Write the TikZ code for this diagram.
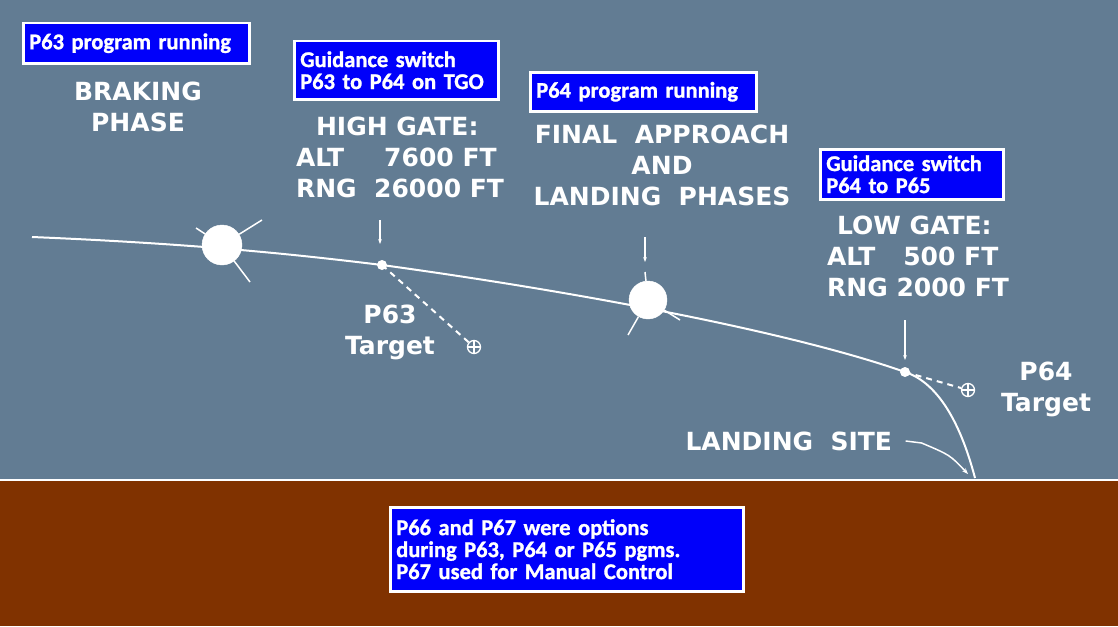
\documentclass[tikz,border=0pt]{standalone}
\usepackage{fontspec}
\setmainfont{DejaVu Sans}
\newfontfamily\boxfont[FakeBold=1.2]{Carlito Bold}
\usetikzlibrary{arrows.meta}
\definecolor{sky}{RGB}{98,124,147}
\definecolor{ground}{RGB}{128,50,0}
\definecolor{bbox}{RGB}{0,0,250}
\tikzset{
  bluebox/.style={draw=white,line width=2.5pt,fill=bbox,text=white,font=\boxfont\fontsize{22.5}{22}\selectfont,align=left,inner sep=6pt,anchor=north west},
  lbl/.style={text=white,font=\bfseries\fontsize{25}{31}\selectfont,align=center},
  traj/.style={white,line width=2pt},
  craft/.style={fill=white,draw=white},
  tick/.style={white,line width=1.5pt},
  tgt/.style={white,line width=1.2pt},
  dsh/.style={white,line width=2pt,dash pattern=on 6pt off 5pt}
}
\begin{document}
\begin{tikzpicture}[x=1pt,y=-1pt]
\useasboundingbox (0,0) rectangle (1118,626);
\fill[sky] (0,0) rectangle (1118,480);
\fill[ground] (0,480) rectangle (1118,626);
\draw[white,line width=1.5pt] (0,480) -- (1118,480);
% trajectory
\coordinate (s0) at (32,237);
\coordinate (hg) at (382,265);
\coordinate (lg) at (905,372);
\coordinate (ls) at (975,478);
\draw[traj] (s0) .. controls (200,244) and (300,255) .. (hg)
  .. controls (600,295) and (800,335) .. (lg)
  .. controls (945,385) and (965,440) .. (ls);
% craft
\node[craft,shape=circle,minimum size=40pt,inner sep=0] (c1) at (222,245) {};
\draw[white,line width=1.5pt] (c1) -- (250,282) (c1) -- (262,220) (c1) -- (196,228);
\node[craft,shape=circle,minimum size=38pt,inner sep=0] (c2) at (648,300) {};
\draw[white,line width=1.5pt] (c2) -- (628,335) (c2) -- (680,320) (c2) -- (645,272);
\fill[white] (hg) circle (5);
\fill[white] (lg) circle (5);
% ticks
\coordinate (t1a) at (380,220); \coordinate (t1b) at (380,244);
\draw[tick,-{Stealth[length=5pt]}] (t1a) -- (t1b);
\coordinate (t2a) at (645,237); \coordinate (t2b) at (645,262);
\draw[tick,-{Stealth[length=5pt]}] (t2a) -- (t2b);
\coordinate (t3a) at (905,320); \coordinate (t3b) at (905,360);
\draw[tick,-{Stealth[length=5pt]}] (t3a) -- (t3b);
% targets
\node[draw=white,circle,line width=1.3pt,minimum size=13pt,inner sep=0] (pt63) at (474,347) {};
\draw[tgt] (pt63.north)--(pt63.south) (pt63.west)--(pt63.east);
\draw[dsh] (hg) -- (pt63);
\node[draw=white,circle,line width=1.3pt,minimum size=13pt,inner sep=0] (pt64) at (968,390) {};
\draw[tgt] (pt64.north)--(pt64.south) (pt64.west)--(pt64.east);
\draw[dsh] (lg) -- (pt64);
% labels
\node[lbl] (braking) at (138,107) {BRAKING\\PHASE};
\node[lbl,align=left] (high) at (400,157) {\hspace*{20pt}HIGH GATE:\\ALT\hspace{40pt}7600 FT\\RNG\ \ 26000 FT};
\node[lbl] (p63t) at (390,332) {P63\\Target};
\node[lbl] (final) at (662,165) {FINAL\ \ APPROACH\\AND\\LANDING\ \ PHASES};
\node[lbl,align=left] (low) at (918,256) {\hspace*{10pt}LOW GATE:\\ALT\hspace{28pt}500 FT\\RNG 2000 FT};
\node[lbl] (p64t) at (1046,389) {P64\\Target};
\node[lbl,anchor=west] (lsite) at (682,441) {LANDING\ \ SITE};
\coordinate (lsend) at (968,474);
\draw[white,line width=1.5pt,-{Stealth[length=6pt]}] (lsite.east) ++(10,0) -- ++(16,2) .. controls (950,455) .. (lsend);
% boxes
\node[bluebox,text width=214pt,minimum height=40pt] (b1) at (22,22) {P63 program running};
\node[bluebox,text width=192pt,minimum height=58pt] (b2) at (293,40) {Guidance switch\\P63 to P64 on TGO};
\node[bluebox,text width=214pt,minimum height=39pt] (b3) at (529,71) {P64 program running};
\node[bluebox,text width=171pt,minimum height=50pt] (b4) at (819,148) {Guidance switch\\P64 to P65};
\node[bluebox,text width=341pt,minimum height=84pt] (b5) at (389,506) {P66 and P67 were options\\during P63, P64 or P65 pgms.\\P67 used for Manual Control};
\end{tikzpicture}
\end{document}
